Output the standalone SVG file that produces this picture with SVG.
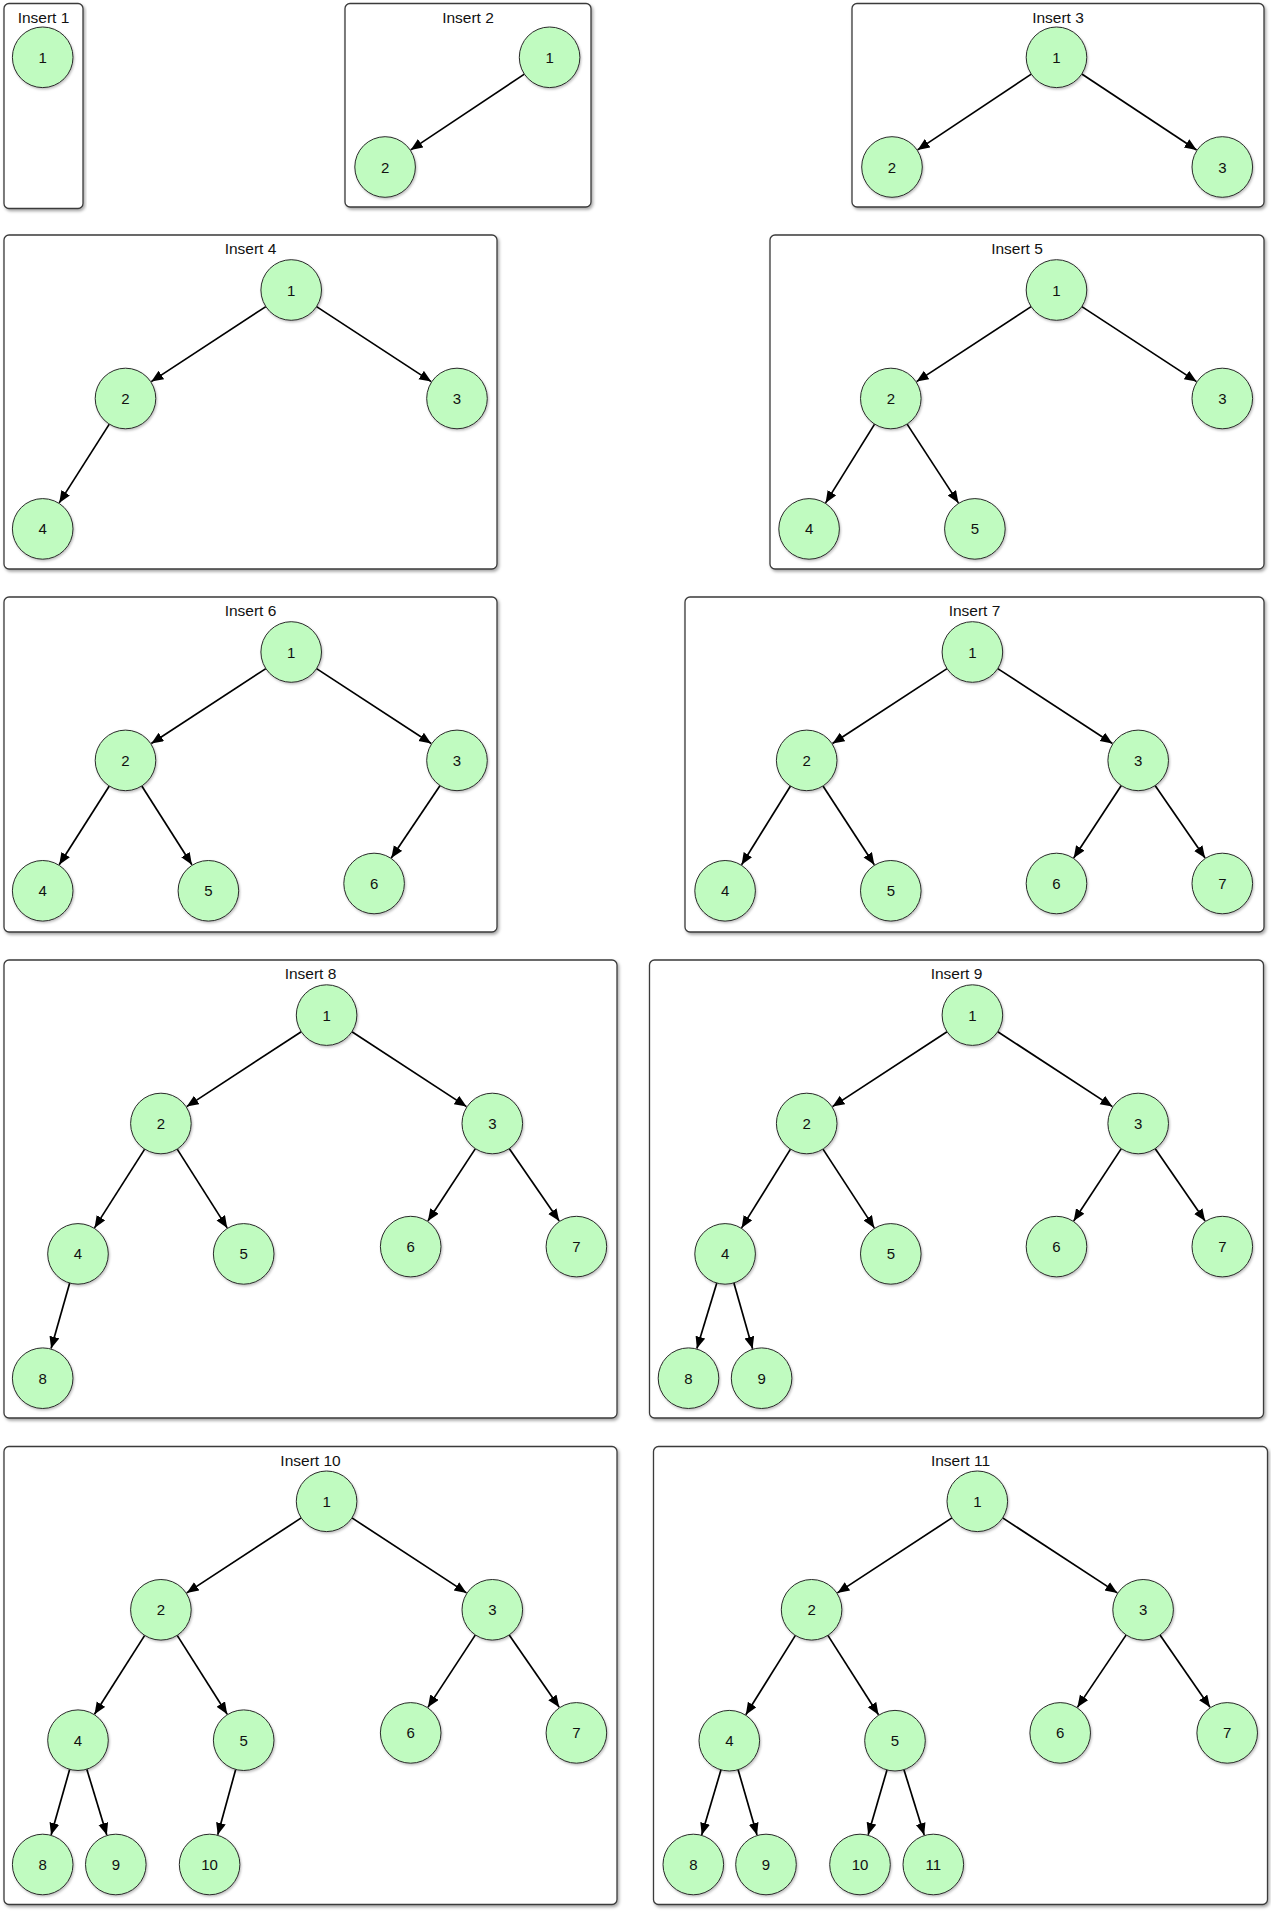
<svg xmlns="http://www.w3.org/2000/svg" width="1271" height="1911" viewBox="0 0 1271 1911">
<style>
.box{fill:#ffffff;stroke:#3a3a3a;stroke-width:1.3;filter:url(#boxShadow)}
.title{font-family:"Liberation Sans",Arial,sans-serif;font-size:15.5px;fill:#111;text-anchor:middle}
.node circle{fill:#c0fbc0;stroke:#2a2a2a;stroke-width:1;filter:url(#nodeShadow)}
.node text{font-family:"Liberation Sans",Arial,sans-serif;font-size:15px;fill:#111;text-anchor:middle}
#connectors line{stroke:#000;stroke-width:1.7;marker-end:url(#arrow)}
</style>
<defs>
<marker id="arrow" markerUnits="userSpaceOnUse" markerWidth="14" markerHeight="12" refX="12" refY="5" orient="auto">
<path d="M0,0 L12,5 L0,10 Z" fill="#000"/>
</marker>
<filter id="boxShadow" x="-5%" y="-5%" width="110%" height="110%">
<feDropShadow dx="1.5" dy="2" stdDeviation="1.5" flood-color="#000" flood-opacity="0.35"/>
</filter>
<filter id="nodeShadow" x="-20%" y="-20%" width="140%" height="140%">
<feDropShadow dx="1" dy="1.5" stdDeviation="1.2" flood-color="#000" flood-opacity="0.25"/>
</filter>
</defs>

<g id="boxes">
<g id="insert-1"><rect class="box" x="4" y="3.5" width="79" height="205" rx="5"/><text class="title" x="43.5" y="22.8">Insert 1</text></g>
<g id="insert-2"><rect class="box" x="345" y="3.5" width="246" height="203.5" rx="5"/><text class="title" x="468" y="22.8">Insert 2</text></g>
<g id="insert-3"><rect class="box" x="852" y="3.5" width="412" height="203.5" rx="5"/><text class="title" x="1058" y="22.8">Insert 3</text></g>
<g id="insert-4"><rect class="box" x="4" y="235" width="493" height="334" rx="5"/><text class="title" x="250.5" y="254.3">Insert 4</text></g>
<g id="insert-5"><rect class="box" x="770" y="235" width="494" height="334" rx="5"/><text class="title" x="1017" y="254.3">Insert 5</text></g>
<g id="insert-6"><rect class="box" x="4" y="597" width="493" height="335" rx="5"/><text class="title" x="250.5" y="616.3">Insert 6</text></g>
<g id="insert-7"><rect class="box" x="685" y="597" width="579" height="335" rx="5"/><text class="title" x="974.5" y="616.3">Insert 7</text></g>
<g id="insert-8"><rect class="box" x="4" y="960" width="613" height="458" rx="5"/><text class="title" x="310.5" y="979.3">Insert 8</text></g>
<g id="insert-9"><rect class="box" x="649.5" y="960" width="614" height="458" rx="5"/><text class="title" x="956.5" y="979.3">Insert 9</text></g>
<g id="insert-10"><rect class="box" x="4" y="1446.5" width="613" height="458" rx="5"/><text class="title" x="310.5" y="1465.8">Insert 10</text></g>
<g id="insert-11"><rect class="box" x="653.5" y="1446.5" width="614" height="458" rx="5"/><text class="title" x="960.5" y="1465.8">Insert 11</text></g>
</g>

<g id="connectors">
<!-- Insert 2 -->
<line x1="524.4" y1="74.1" x2="410.7" y2="149.9"/>
<!-- Insert 3 -->
<line x1="1031.3" y1="74.1" x2="917.6" y2="149.9"/>
<line x1="1081.8" y1="74.0" x2="1196.6" y2="150.0"/>
<!-- Insert 4 -->
<line x1="265.85" y1="306.6" x2="151.3" y2="381.6"/>
<line x1="316.55" y1="306.6" x2="431.2" y2="381.6"/>
<line x1="109.3" y1="424.1" x2="59.2" y2="502.9"/>
<!-- Insert 5 -->
<line x1="1031.15" y1="306.6" x2="916.6" y2="381.6"/>
<line x1="1081.85" y1="306.6" x2="1196.5" y2="381.6"/>
<line x1="874.6" y1="424.1" x2="825.6" y2="502.9"/>
<line x1="907.1" y1="424.1" x2="958.4" y2="502.9"/>
<!-- Insert 6 -->
<line x1="265.85" y1="668.6" x2="151.3" y2="743.5"/>
<line x1="316.55" y1="668.6" x2="431.2" y2="743.5"/>
<line x1="109.3" y1="786.0" x2="59.2" y2="864.8"/>
<line x1="141.8" y1="786.0" x2="191.9" y2="864.8"/>
<line x1="440.1" y1="785.5" x2="391.3" y2="857.95"/>
<!-- Insert 7 -->
<line x1="947.05" y1="668.6" x2="832.5" y2="743.5"/>
<line x1="997.75" y1="668.6" x2="1112.4" y2="743.5"/>
<line x1="790.5" y1="786.0" x2="741.6" y2="864.8"/>
<line x1="823.0" y1="786.0" x2="874.3" y2="864.8"/>
<line x1="1121.3" y1="785.5" x2="1073.7" y2="857.95"/>
<line x1="1155.1" y1="785.5" x2="1205.1" y2="857.95"/>
<!-- Insert 8 -->
<line x1="301.25" y1="1031.7" x2="186.7" y2="1106.6"/>
<line x1="351.95" y1="1031.7" x2="466.5" y2="1106.6"/>
<line x1="144.7" y1="1149.1" x2="94.5" y2="1227.9"/>
<line x1="177.2" y1="1149.1" x2="227.2" y2="1227.9"/>
<line x1="475.4" y1="1148.6" x2="427.9" y2="1221.05"/>
<line x1="509.2" y1="1148.6" x2="559.2" y2="1221.05"/>
<line x1="69.7" y1="1283.05" x2="51.1" y2="1348.6"/>
<!-- Insert 9 -->
<line x1="947.05" y1="1031.7" x2="832.5" y2="1106.6"/>
<line x1="997.75" y1="1031.7" x2="1112.4" y2="1106.6"/>
<line x1="790.5" y1="1149.1" x2="741.6" y2="1227.9"/>
<line x1="823.0" y1="1149.1" x2="874.3" y2="1227.9"/>
<line x1="1121.3" y1="1148.6" x2="1073.7" y2="1221.05"/>
<line x1="1155.1" y1="1148.6" x2="1205.1" y2="1221.05"/>
<line x1="716.8" y1="1283.05" x2="696.9" y2="1348.6"/>
<line x1="733.9" y1="1282.9" x2="752.6" y2="1348.7"/>
<!-- Insert 10 -->
<line x1="301.25" y1="1517.9" x2="186.7" y2="1592.9"/>
<line x1="351.95" y1="1517.9" x2="466.5" y2="1592.9"/>
<line x1="144.7" y1="1635.4" x2="94.5" y2="1714.2"/>
<line x1="177.2" y1="1635.4" x2="227.2" y2="1714.2"/>
<line x1="475.4" y1="1634.9" x2="427.9" y2="1707.35"/>
<line x1="509.2" y1="1634.9" x2="559.2" y2="1707.35"/>
<line x1="69.7" y1="1769.35" x2="51.1" y2="1834.9"/>
<line x1="86.8" y1="1769.2" x2="106.8" y2="1835.0"/>
<line x1="235.7" y1="1769.4" x2="217.75" y2="1834.8"/>
<!-- Insert 11 -->
<line x1="951.95" y1="1517.9" x2="837.4" y2="1592.9"/>
<line x1="1002.65" y1="1517.9" x2="1117.3" y2="1592.9"/>
<line x1="795.4" y1="1635.4" x2="745.8" y2="1714.7"/>
<line x1="827.9" y1="1635.4" x2="878.5" y2="1714.7"/>
<line x1="1126.2" y1="1634.9" x2="1077.4" y2="1707.35"/>
<line x1="1160.0" y1="1634.9" x2="1210.0" y2="1707.35"/>
<line x1="721.0" y1="1769.85" x2="701.7" y2="1834.9"/>
<line x1="738.1" y1="1769.7" x2="757.0" y2="1835.0"/>
<line x1="887.0" y1="1769.9" x2="868.15" y2="1834.8"/>
<line x1="903.95" y1="1769.65" x2="924.2" y2="1835.1"/>
</g>

<g id="nodes">
<!-- Insert 1 -->
<g id="i1-n1" class="node"><circle cx="42.7" cy="57.3" r="30.3"/><text x="42.7" y="62.8">1</text></g>
<!-- Insert 2 -->
<g id="i2-n1" class="node"><circle cx="549.6" cy="57.3" r="30.3"/><text x="549.6" y="62.8">1</text></g>
<g id="i2-n2" class="node"><circle cx="385.1" cy="167" r="30.3"/><text x="385.1" y="172.5">2</text></g>
<!-- Insert 3 -->
<g id="i3-n1" class="node"><circle cx="1056.5" cy="57.3" r="30.3"/><text x="1056.5" y="62.8">1</text></g>
<g id="i3-n2" class="node"><circle cx="892" cy="167" r="30.3"/><text x="892" y="172.5">2</text></g>
<g id="i3-n3" class="node"><circle cx="1222.3" cy="167" r="30.3"/><text x="1222.3" y="172.5">3</text></g>
<!-- Insert 4 -->
<g id="i4-n1" class="node"><circle cx="291.2" cy="290" r="30.3"/><text x="291.2" y="295.5">1</text></g>
<g id="i4-n2" class="node"><circle cx="125.5" cy="398.5" r="30.3"/><text x="125.5" y="404">2</text></g>
<g id="i4-n3" class="node"><circle cx="457" cy="398.5" r="30.3"/><text x="457" y="404">3</text></g>
<g id="i4-n4" class="node"><circle cx="42.7" cy="528.9" r="30.3"/><text x="42.7" y="534.4">4</text></g>
<!-- Insert 5 -->
<g id="i5-n1" class="node"><circle cx="1056.5" cy="290" r="30.3"/><text x="1056.5" y="295.5">1</text></g>
<g id="i5-n2" class="node"><circle cx="890.8" cy="398.5" r="30.3"/><text x="890.8" y="404">2</text></g>
<g id="i5-n3" class="node"><circle cx="1222.3" cy="398.5" r="30.3"/><text x="1222.3" y="404">3</text></g>
<g id="i5-n4" class="node"><circle cx="809.1" cy="528.9" r="30.3"/><text x="809.1" y="534.4">4</text></g>
<g id="i5-n5" class="node"><circle cx="974.9" cy="528.9" r="30.3"/><text x="974.9" y="534.4">5</text></g>
<!-- Insert 6 -->
<g id="i6-n1" class="node"><circle cx="291.2" cy="652" r="30.3"/><text x="291.2" y="657.5">1</text></g>
<g id="i6-n2" class="node"><circle cx="125.5" cy="760.4" r="30.3"/><text x="125.5" y="765.9">2</text></g>
<g id="i6-n3" class="node"><circle cx="457" cy="760.4" r="30.3"/><text x="457" y="765.9">3</text></g>
<g id="i6-n4" class="node"><circle cx="42.7" cy="890.8" r="30.3"/><text x="42.7" y="896.3">4</text></g>
<g id="i6-n5" class="node"><circle cx="208.4" cy="890.8" r="30.3"/><text x="208.4" y="896.3">5</text></g>
<g id="i6-n6" class="node"><circle cx="374.1" cy="883.5" r="30.3"/><text x="374.1" y="889">6</text></g>
<!-- Insert 7 -->
<g id="i7-n1" class="node"><circle cx="972.4" cy="652" r="30.3"/><text x="972.4" y="657.5">1</text></g>
<g id="i7-n2" class="node"><circle cx="806.7" cy="760.4" r="30.3"/><text x="806.7" y="765.9">2</text></g>
<g id="i7-n3" class="node"><circle cx="1138.2" cy="760.4" r="30.3"/><text x="1138.2" y="765.9">3</text></g>
<g id="i7-n4" class="node"><circle cx="725.1" cy="890.8" r="30.3"/><text x="725.1" y="896.3">4</text></g>
<g id="i7-n5" class="node"><circle cx="890.8" cy="890.8" r="30.3"/><text x="890.8" y="896.3">5</text></g>
<g id="i7-n6" class="node"><circle cx="1056.5" cy="883.5" r="30.3"/><text x="1056.5" y="889">6</text></g>
<g id="i7-n7" class="node"><circle cx="1222.3" cy="883.5" r="30.3"/><text x="1222.3" y="889">7</text></g>
<!-- Insert 8 -->
<g id="i8-n1" class="node"><circle cx="326.6" cy="1015.1" r="30.3"/><text x="326.6" y="1020.6">1</text></g>
<g id="i8-n2" class="node"><circle cx="160.9" cy="1123.5" r="30.3"/><text x="160.9" y="1129">2</text></g>
<g id="i8-n3" class="node"><circle cx="492.3" cy="1123.5" r="30.3"/><text x="492.3" y="1129">3</text></g>
<g id="i8-n4" class="node"><circle cx="78" cy="1253.9" r="30.3"/><text x="78" y="1259.4">4</text></g>
<g id="i8-n5" class="node"><circle cx="243.7" cy="1253.9" r="30.3"/><text x="243.7" y="1259.4">5</text></g>
<g id="i8-n6" class="node"><circle cx="410.7" cy="1246.6" r="30.3"/><text x="410.7" y="1252.1">6</text></g>
<g id="i8-n7" class="node"><circle cx="576.4" cy="1246.6" r="30.3"/><text x="576.4" y="1252.1">7</text></g>
<g id="i8-n8" class="node"><circle cx="42.7" cy="1378.2" r="30.3"/><text x="42.7" y="1383.7">8</text></g>
<!-- Insert 9 -->
<g id="i9-n1" class="node"><circle cx="972.4" cy="1015.1" r="30.3"/><text x="972.4" y="1020.6">1</text></g>
<g id="i9-n2" class="node"><circle cx="806.7" cy="1123.5" r="30.3"/><text x="806.7" y="1129">2</text></g>
<g id="i9-n3" class="node"><circle cx="1138.2" cy="1123.5" r="30.3"/><text x="1138.2" y="1129">3</text></g>
<g id="i9-n4" class="node"><circle cx="725.1" cy="1253.9" r="30.3"/><text x="725.1" y="1259.4">4</text></g>
<g id="i9-n5" class="node"><circle cx="890.8" cy="1253.9" r="30.3"/><text x="890.8" y="1259.4">5</text></g>
<g id="i9-n6" class="node"><circle cx="1056.5" cy="1246.6" r="30.3"/><text x="1056.5" y="1252.1">6</text></g>
<g id="i9-n7" class="node"><circle cx="1222.3" cy="1246.6" r="30.3"/><text x="1222.3" y="1252.1">7</text></g>
<g id="i9-n8" class="node"><circle cx="688.5" cy="1378.2" r="30.3"/><text x="688.5" y="1383.7">8</text></g>
<g id="i9-n9" class="node"><circle cx="761.6" cy="1378.2" r="30.3"/><text x="761.6" y="1383.7">9</text></g>
<!-- Insert 10 -->
<g id="i10-n1" class="node"><circle cx="326.6" cy="1501.3" r="30.3"/><text x="326.6" y="1506.8">1</text></g>
<g id="i10-n2" class="node"><circle cx="160.9" cy="1609.8" r="30.3"/><text x="160.9" y="1615.3">2</text></g>
<g id="i10-n3" class="node"><circle cx="492.3" cy="1609.8" r="30.3"/><text x="492.3" y="1615.3">3</text></g>
<g id="i10-n4" class="node"><circle cx="78" cy="1740.2" r="30.3"/><text x="78" y="1745.7">4</text></g>
<g id="i10-n5" class="node"><circle cx="243.7" cy="1740.2" r="30.3"/><text x="243.7" y="1745.7">5</text></g>
<g id="i10-n6" class="node"><circle cx="410.7" cy="1732.9" r="30.3"/><text x="410.7" y="1738.4">6</text></g>
<g id="i10-n7" class="node"><circle cx="576.4" cy="1732.9" r="30.3"/><text x="576.4" y="1738.4">7</text></g>
<g id="i10-n8" class="node"><circle cx="42.7" cy="1864.5" r="30.3"/><text x="42.7" y="1870">8</text></g>
<g id="i10-n9" class="node"><circle cx="115.8" cy="1864.5" r="30.3"/><text x="115.8" y="1870">9</text></g>
<g id="i10-n10" class="node"><circle cx="209.6" cy="1864.5" r="30.3"/><text x="209.6" y="1870">10</text></g>
<!-- Insert 11 -->
<g id="i11-n1" class="node"><circle cx="977.3" cy="1501.3" r="30.3"/><text x="977.3" y="1506.8">1</text></g>
<g id="i11-n2" class="node"><circle cx="811.6" cy="1609.8" r="30.3"/><text x="811.6" y="1615.3">2</text></g>
<g id="i11-n3" class="node"><circle cx="1143.1" cy="1609.8" r="30.3"/><text x="1143.1" y="1615.3">3</text></g>
<g id="i11-n4" class="node"><circle cx="729.3" cy="1740.7" r="30.3"/><text x="729.3" y="1746.2">4</text></g>
<g id="i11-n5" class="node"><circle cx="895" cy="1740.7" r="30.3"/><text x="895" y="1746.2">5</text></g>
<g id="i11-n6" class="node"><circle cx="1060.2" cy="1732.9" r="30.3"/><text x="1060.2" y="1738.4">6</text></g>
<g id="i11-n7" class="node"><circle cx="1227.2" cy="1732.9" r="30.3"/><text x="1227.2" y="1738.4">7</text></g>
<g id="i11-n8" class="node"><circle cx="693.3" cy="1864.5" r="30.3"/><text x="693.3" y="1870">8</text></g>
<g id="i11-n9" class="node"><circle cx="766" cy="1864.5" r="30.3"/><text x="766" y="1870">9</text></g>
<g id="i11-n10" class="node"><circle cx="860" cy="1864.5" r="30.3"/><text x="860" y="1870">10</text></g>
<g id="i11-n11" class="node"><circle cx="933.3" cy="1864.5" r="30.3"/><text x="933.3" y="1870">11</text></g>
</g>
</svg>
